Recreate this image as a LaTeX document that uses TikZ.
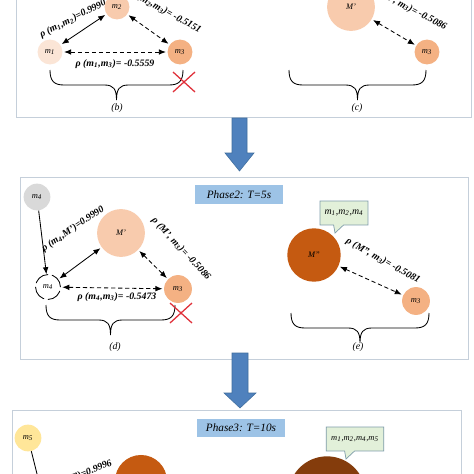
\documentclass[tikz,border=0pt]{standalone}
\usepackage{fontspec}
\setmainfont{Liberation Serif}
\usepackage{xcolor}
\usetikzlibrary{arrows.meta,shapes.callouts}

\definecolor{frameblue}{HTML}{C5CFDA}
\definecolor{phaseblue}{HTML}{9DC3E6}
\definecolor{arrowblue}{HTML}{4F81BD}
\definecolor{arrowedge}{HTML}{3F6E9E}
\definecolor{peachA}{HTML}{FBE5D6}
\definecolor{peachB}{HTML}{F8CBAD}
\definecolor{peachC}{HTML}{F4B183}
\definecolor{rustA}{HTML}{C55A11}
\definecolor{brownA}{HTML}{843C0C}
\definecolor{grayA}{HTML}{D9D9D9}
\definecolor{yellowA}{HTML}{FFE699}
\definecolor{notegreen}{HTML}{E2F0D9}
\definecolor{noteedge}{HTML}{7F9DAA}
\definecolor{crossred}{HTML}{E0303A}

\newcommand{\msub}[1]{\textit{m}\textsubscript{#1}}
% curly brace under a group: left x, right x, top y
\newcommand{\groupbrace}[3]{%
  \draw[line width=0.6pt] (#1,#3) .. controls (#1,#3+11) and (#1+4,#3+15) .. (#1+14,#3+15)
    -- ({(#1+#2)/2-12},#3+15) .. controls ({(#1+#2)/2-3},#3+15) and ({(#1+#2)/2},#3+19) .. ({(#1+#2)/2},#3+30)
    .. controls ({(#1+#2)/2},#3+19) and ({(#1+#2)/2+3},#3+15) .. ({(#1+#2)/2+12},#3+15)
    -- (#2-14,#3+15) .. controls (#2-4,#3+15) and (#2,#3+11) .. (#2,#3);}

\begin{document}
\begin{tikzpicture}[x=0.025cm,y=-0.025cm,
    mass/.style={circle,inner sep=0pt,minimum size=17.7pt,font=\fontsize{6}{7}\selectfont\itshape},
    corr/.style={inner sep=0pt,font=\fontsize{7}{8}\selectfont\bfseries\itshape},
    capt/.style={font=\fontsize{7}{8}\selectfont\itshape},
    link/.style={line width=0.6pt,{Latex[length=5pt,width=4pt]}-{Latex[length=5pt,width=4pt]},shorten <=1pt,shorten >=1pt},
    weak/.style={link,dash pattern=on 3pt off 2pt},
    panel/.style={draw=frameblue,line width=0.7pt},
    bigarrow/.style={fill=arrowblue,draw=arrowedge,line width=0.4pt},
    phasebox/.style={fill=phaseblue,minimum width=62pt,minimum height=13.5pt,inner sep=0pt,font=\fontsize{8}{9}\selectfont\itshape},
    note/.style={rectangle callout,fill=notegreen,draw=noteedge,line width=0.5pt,minimum width=34pt,minimum height=17pt,inner sep=1pt,font=\fontsize{7}{8}\selectfont\itshape},
    cross/.style={draw=crossred,line width=0.9pt}]

    \useasboundingbox (0,0) rectangle (474,474);
    \clip (0,0) rectangle (474,474);
    \fill[white] (0,0) rectangle (474,474);

    % frames
    \draw[panel] (16,-5) rectangle (471,117);
    \draw[panel] (20,177) rectangle (468,359);
    \draw[panel] (12,410) rectangle (461,490);

    % (b)
    \node (b1) at (50,52) [mass,fill=peachA] {\msub{1}};
    \node (b2) at (117,7) [mass,fill=peachB] {\msub{2}};
    \node (b3) at (180,52) [mass,fill=peachC] {\msub{3}};

    \draw[link] (b1) -- (b2);
    \draw[weak] (b1) -- (b3);
    \draw[weak] (b2) -- (b3);

    \node (lb12) at (73,19) [corr,rotate=27] {ρ (\msub{1},\msub{2})=0.9990};
    \node (lb23) at (166,12) [corr,rotate=-29] {ρ (\msub{2},\msub{3})= -0.5151};
    \node (lb13) at (115,64) [corr] {ρ (\msub{1},\msub{3})= -0.5559};

    \groupbrace{50}{183}{70}
    \draw[cross] (173,72) -- (195,92) (173,92) -- (195,72);
    \node (capb) at (117,108) [capt] {(b)};

    % (c)
    \node (cM) at (351,7) [mass,fill=peachB,minimum size=34pt] {M'};
    \node (c3) at (427,52) [mass,fill=peachC] {\msub{3}};

    \draw[weak] (cM) -- (c3);

    \node (lc) at (410,9) [corr,rotate=-28] {ρ (M', \msub{3})= -0.5086};

    \groupbrace{289}{426}{70}
    \node (capc) at (357,108) [capt] {(c)};

    % first arrow
    \draw[bigarrow] (232,118) -- (247,118) -- (247,153) -- (254,153) -- (239.5,171) -- (225,153) -- (232,153) -- cycle;

    % (d)
    \node (ph2) at (239,194.5) [phasebox] {Phase2: T=5s};

    \node (d4a) at (37,197) [mass,fill=grayA,minimum size=19pt] {\msub{4}};
    \node (dM) at (121,233) [mass,fill=peachB,minimum size=34pt] {M'};
    \node (d4b) at (48,287) [mass,draw,line width=0.6pt,dash pattern=on 11pt off 2.8pt] {\msub{4}};
    \node (d3) at (178,289) [mass,fill=peachC,minimum size=19.8pt] {\msub{3}};

    \draw[line width=0.6pt,-{Latex[length=5pt,width=4pt]}] (d4a) -- (d4b);
    \draw[link] (d4b) -- (dM);
    \draw[weak] (dM) -- (d3);
    \draw[weak] (d4b) -- (d3);

    \node (ld1) at (73,229) [corr,rotate=34] {ρ (\msub{4},M')=0.9990};
    \node (ld2) at (181,249) [corr,rotate=-47] {ρ (M', \msub{3})= -0.5086};
    \node (ld3) at (117,297) [corr] {ρ (\msub{4},\msub{3})= -0.5473};

    \groupbrace{46}{175}{305}
    \draw[cross] (170,303) -- (192,323) (170,323) -- (192,303);
    \node (capd) at (115,347) [capt] {(d)};

    % (e)
    \node (eM) at (314,255) [mass,fill=rustA,minimum size=38pt] {M''};
    \node (e3) at (416,301) [mass,fill=peachC,minimum size=19.8pt] {\msub{3}};

    \draw[weak] (eM) -- (e3);

    \node (le) at (383,261) [corr,rotate=-29] {ρ (M'', \msub{3})= -0.5081};
    \node (eset) at (344,213) [note,callout absolute pointer={(335,233)}] {\msub{1},\msub{2},\msub{4}};

    \groupbrace{291}{429}{313}
    \node (cape) at (358,347) [capt] {(e)};

    % second arrow
    \draw[bigarrow] (232,353) -- (248,353) -- (248,393) -- (256,393) -- (240,408) -- (224,393) -- (232,393) -- cycle;

    % phase 3
    \node (ph3) at (241,428) [phasebox] {Phase3: T=10s};

    \node (f5) at (28,438) [mass,fill=yellowA,minimum size=19pt] {\msub{5}};
    \node (fM) at (141,481) [mass,fill=rustA,minimum size=37pt] {};
    \node (fN) at (327,495) [mass,fill=brownA,minimum size=55pt] {};
    \coordinate (f5end) at (41,490);

    \draw[line width=0.6pt] (f5) -- (f5end);

    \node (lf) at (77,477) [corr,rotate=22] {ρ (\msub{5},M'')=0.9996};
    \node (fset) at (355,439) [note,minimum width=41pt,font=\fontsize{6}{7}\selectfont\itshape,callout absolute pointer={(346,459)}] {\msub{1},\msub{2},\msub{4},\msub{5}};

\end{tikzpicture}
\end{document}
